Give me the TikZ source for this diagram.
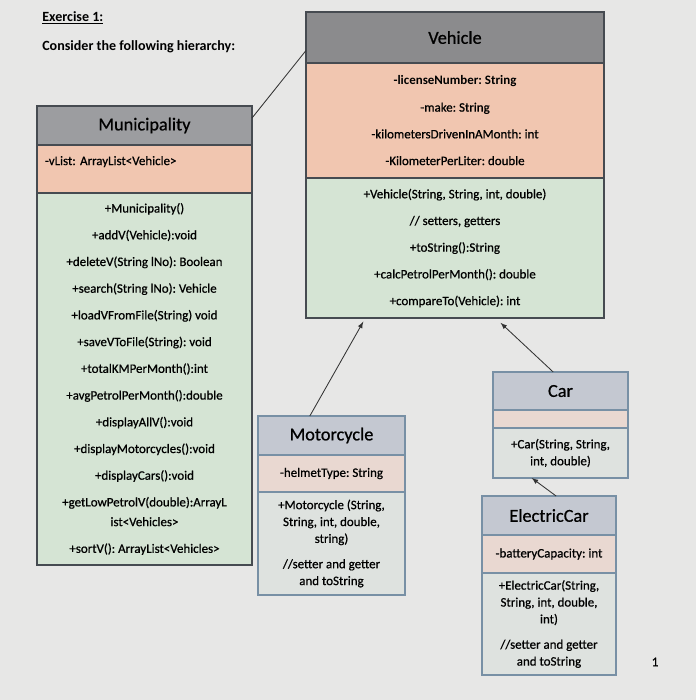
\documentclass[tikz,border=0pt]{standalone}
\usepackage{fontspec}
\setmainfont{Carlito}[UprightFeatures={FakeBold=0.7}]
\usepackage{tikz}
\usetikzlibrary{arrows}

\definecolor{paper}{HTML}{E7E7E6}
\definecolor{headgray}{HTML}{8B8B8D}
\definecolor{munigray}{HTML}{9C9DA0}
\definecolor{salmon}{HTML}{F1C6B0}
\definecolor{mint}{HTML}{D5E4D4}
\definecolor{subhead}{HTML}{C4C8D1}
\definecolor{subattr}{HTML}{E9D8D1}
\definecolor{submeth}{HTML}{DEE2DF}
\definecolor{darkline}{HTML}{464B51}
\definecolor{blueline}{HTML}{7890A5}

\frenchspacing

\begin{document}
\begin{tikzpicture}[x=0.025cm,y=-0.025cm]

  %Styles for picture
  \tikzset
  {
  head/.style={rectangle, draw=darkline, line width=0.8pt, inner sep=2pt, outer sep=0pt, font=\fontsize{13}{15}\selectfont},
  attrs/.style={rectangle, draw=darkline, line width=0.8pt, fill=salmon, inner sep=2pt, outer sep=0pt, align=center, font=\fontsize{9.2}{14}\selectfont},
  meths/.style={rectangle, draw=darkline, line width=0.8pt, fill=mint, inner sep=2pt, outer sep=0pt, align=center, font=\fontsize{9.2}{14}\selectfont},
  subhead/.style={rectangle, draw=blueline, line width=0.8pt, fill=subhead, inner sep=2pt, outer sep=0pt, font=\fontsize{13}{15}\selectfont},
  subattrs/.style={rectangle, draw=blueline, line width=0.8pt, fill=subattr, inner sep=2pt, outer sep=0pt, align=center, font=\fontsize{9.2}{12}\selectfont},
  submeths/.style={rectangle, draw=blueline, line width=0.8pt, fill=submeth, inner sep=2pt, outer sep=0pt, align=center, font=\fontsize{9.2}{12}\selectfont},
  link/.style={draw=black!80, line width=0.6pt},
  }

  %Page
  \fill[paper] (0,0) rectangle (696,700);
  \useasboundingbox (0,0) rectangle (696,700);

  %Texts
  \node[anchor=west, inner sep=0pt, font=\bfseries\fontsize{10}{12}\selectfont] (title) at (42,18) {\underline{Exercise 1:}};
  \node[anchor=west, inner sep=0pt, font=\bfseries\fontsize{10}{12}\selectfont] (intro) at (42,47) {Consider the following hierarchy:};
  \node[inner sep=0pt, font=\fontsize{9.5}{11}\selectfont] (pagenum) at (655,662) {1};

  %Vehicle
  \node[head, fill=headgray, minimum width=7.45cm, minimum height=1.275cm] (vehHead) at (455,37.5) {Vehicle};
  \node[attrs, minimum width=7.45cm, minimum height=2.875cm] (vehAttr) at (455,120.5)
    {\textbf{-licenseNumber: String}\\[5pt] -make: String\\[5pt] -kilometersDrivenInAMonth: int\\[5pt] -KilometerPerLiter: double};
  \node[meths, minimum width=7.45cm, minimum height=3.5cm] (vehMeth) at (455,248)
    {+Vehicle(String, String, int, double)\\[5pt] // setters, getters\\[5pt] +toString():String\\[5pt] +calcPetrolPerMonth(): double\\[5pt] +compareTo(Vehicle): int};

  %Municipality
  \node[head, fill=munigray, minimum width=5.375cm, minimum height=0.975cm] (muniHead) at (144.5,125.5) {Municipality};
  \node[attrs, align=left, text width=4.975cm, inner xsep=0.2cm, text depth=12pt, minimum height=1.2cm] (muniAttr) at (144.5,169)
    {-vList: ArrayList<Vehicle>};
  \node[meths, minimum width=5.375cm, minimum height=9.3cm] (muniMeth) at (144.5,379)
    {+Municipality()\\[5pt] +addV(Vehicle):void\\[5pt] +deleteV(String lNo): Boolean\\[5pt] +search(String lNo): Vehicle\\[5pt]
     +loadVFromFile(String) void\\[5pt] +saveVToFile(String): void\\[5pt] +totalKMPerMonth():int\\[5pt]
     +avgPetrolPerMonth():double\\[5pt] +displayAllV():void\\[5pt] +displayMotorcycles():void\\[5pt]
     +displayCars():void\\[5pt] +getLowPetrolV(double):ArrayL\\ist<Vehicles>\\[5pt] +sortV(): ArrayList<Vehicles>};

  %Motorcycle
  \node[subhead, minimum width=3.675cm, minimum height=0.975cm] (motoHead) at (331.5,435.5) {Motorcycle};
  \node[subattrs, minimum width=3.675cm, minimum height=0.925cm] (motoAttr) at (331.5,473.5) {-helmetType: String};
  \node[submeths, minimum width=3.675cm, minimum height=2.575cm] (motoMeth) at (331.5,543.5)
    {+Motorcycle (String,\\ String, int, double,\\ string)\\[6pt] //setter and getter\\ and toString};

  %Car
  \node[subhead, minimum width=3.375cm, minimum height=0.95cm] (carHead) at (560.5,391) {Car};
  \node[subattrs, minimum width=3.375cm, minimum height=0.45cm] (carAttr) at (560.5,419) {};
  \node[submeths, minimum width=3.375cm, minimum height=1.25cm] (carMeth) at (560.5,453)
    {+Car(String, String,\\ int, double)};

  %ElectricCar
  \node[subhead, minimum width=3.35cm, minimum height=0.975cm] (ecHead) at (549,515.5) {ElectricCar};
  \node[subattrs, minimum width=3.35cm, minimum height=0.95cm] (ecAttr) at (549,554) {-batteryCapacity: int};
  \node[submeths, minimum width=3.35cm, minimum height=2.55cm] (ecMeth) at (549,624)
    {+ElectricCar(String,\\ String, int, double,\\ int)\\[6pt] //setter and getter\\ and toString};

  %Edges
  \draw[link] (muniHead.4) -- (vehHead.185);
  \draw[link, -latex, shorten >=3pt] (motoHead.138) -- (vehMeth.218);
  \draw[link, -latex, shorten >=5pt] (carHead.111) -- (vehMeth.300);
  \draw[link, -latex] (ecHead.70) -- (carMeth.221);
\end{tikzpicture}
\end{document}
